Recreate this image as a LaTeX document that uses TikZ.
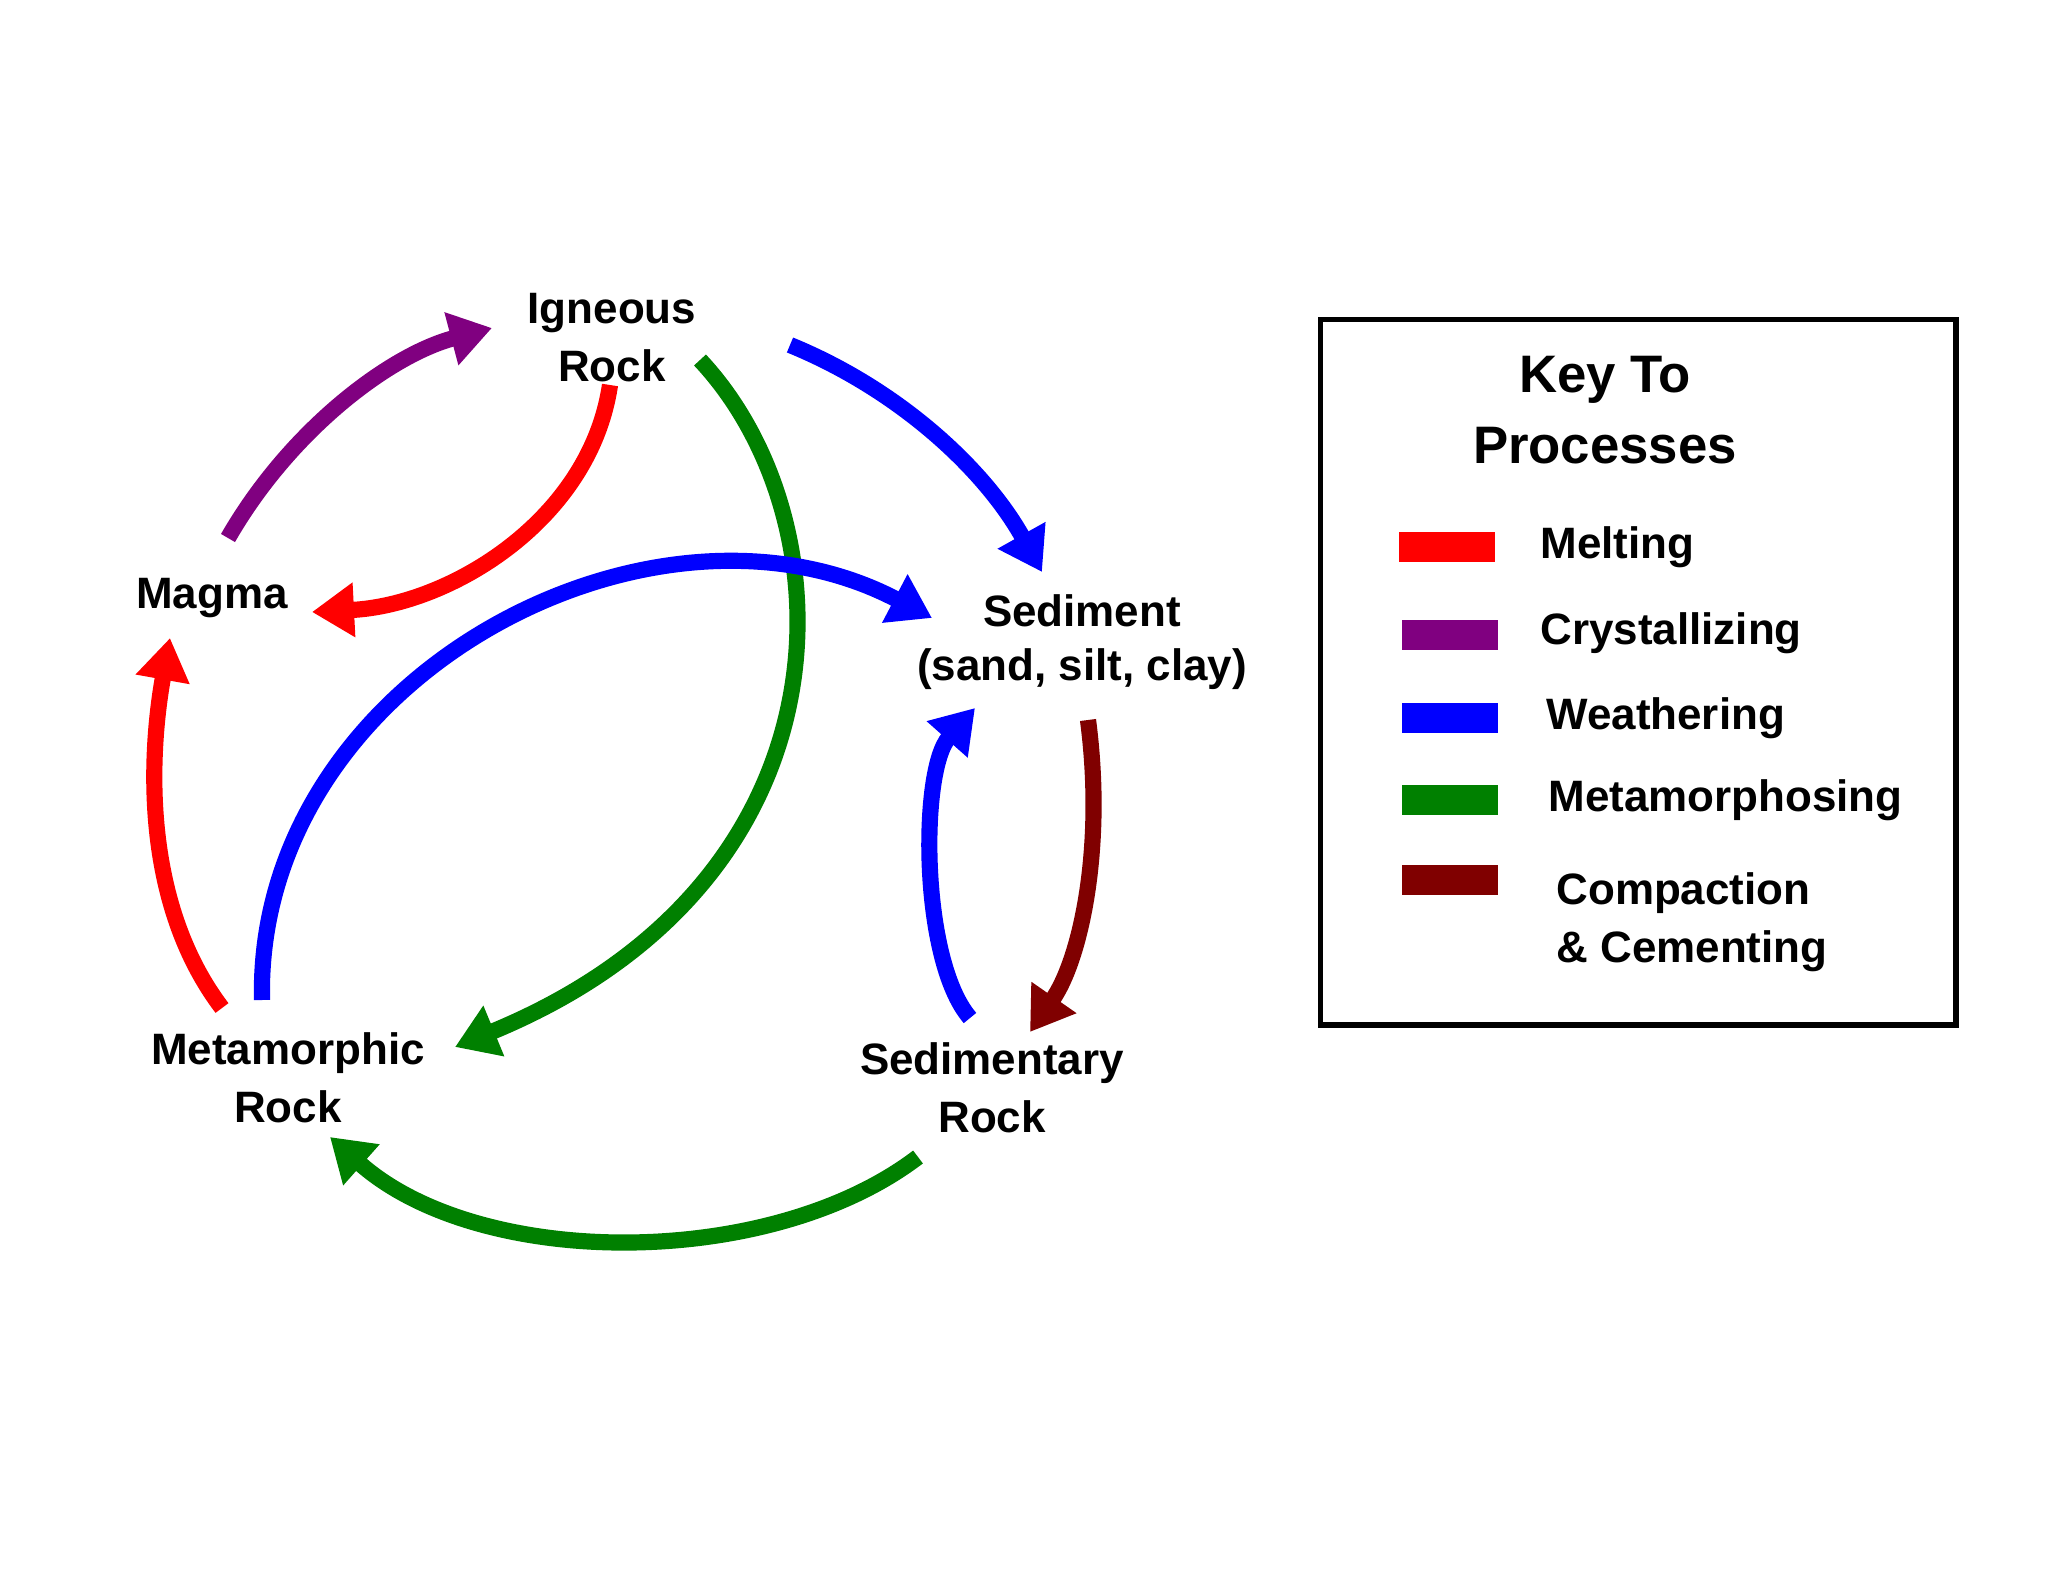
\documentclass[tikz,border=0pt]{standalone}
\usepackage{fontspec}
\setmainfont{Liberation Sans}
\usetikzlibrary{arrows.meta}
\definecolor{cred}{HTML}{FF0000}
\definecolor{cpurple}{HTML}{800080}
\definecolor{cblue}{HTML}{0000FF}
\definecolor{cgreen}{HTML}{008000}
\definecolor{cmaroon}{HTML}{800000}
\begin{document}
\begin{tikzpicture}[x=0.01cm,y=-0.01cm,
  lbl/.style={font=\fontsize{12.5}{15.5}\selectfont\bfseries,align=center},
  key/.style={font=\fontsize{12.5}{15.5}\selectfont\bfseries,align=left,anchor=west},
  arr/.style={line width=4.6pt,-{Triangle[length=0.42cm,width=0.52cm]}},
  sw/.style={minimum width=0.95cm,minimum height=0.3cm,inner sep=0pt}]
\useasboundingbox (0,0) rectangle (2048,1582);
\fill[white] (0,0) rectangle (2048,1582);
% nodes
\node[lbl] (ign) at (612,338) {Igneous\\[1pt]Rock};
\node[lbl] (mag) at (212,598) {Magma};
\node[lbl] (sed) at (1082,642) {Sediment\\(sand, silt, clay)};
\node[lbl] (met) at (288,1078) {Metamorphic\\[1pt]Rock};
\node[lbl] (sr) at (992,1088) {Sedimentary\\[1pt]Rock};
% endpoints
\coordinate (p1s) at (228,538); \coordinate (p1e) at (492,328);
\coordinate (r1s) at (610,385); \coordinate (r1e) at (312,612);
\coordinate (b1s) at (790,345); \coordinate (b1e) at (1042,572);
\coordinate (g1s) at (700,360); \coordinate (g1e) at (455,1047);
\coordinate (b2s) at (262,1000); \coordinate (b2e) at (932,618);
\coordinate (r2s) at (222,1008); \coordinate (r2e) at (170,638);
\coordinate (b3s) at (970,1018); \coordinate (b3e) at (975,708);
\coordinate (m1s) at (1088,720); \coordinate (m1e) at (1030,1032);
\coordinate (g2s) at (918,1157); \coordinate (g2e) at (330,1137);
% arrows
\draw[arr,cpurple] (p1s) .. controls (290,430) and (390,355) .. (p1e);
\draw[arr,cred] (r1s) .. controls (590,520) and (450,605) .. (r1e);
\draw[arr,cblue] (b1s) .. controls (900,390) and (985,470) .. (b1e);
\draw[arr,cgreen] (g1s) .. controls (850,520) and (860,880) .. (g1e);
\draw[arr,cblue] (b2s) .. controls (255,680) and (650,470) .. (b2e);
\draw[arr,cred] (r2s) .. controls (140,900) and (150,750) .. (r2e);
\draw[arr,cblue] (b3s) .. controls (920,960) and (920,770) .. (b3e);
\draw[arr,cmaroon] (m1s) .. controls (1105,850) and (1080,960) .. (m1e);
\draw[arr,cgreen] (g2s) .. controls (770,1270) and (480,1270) .. (g2e);
% legend
\node[draw,line width=1.5pt,minimum width=6.35cm,minimum height=7.05cm,anchor=north west] (box) at (1318,317) {};
\node[font=\fontsize{15}{19}\selectfont\bfseries,align=center] (kt) at (1605,410) {Key To\\[1pt]Processes};
\node[sw,fill=cred] (s1) at (1447,547) {};
\node[sw,fill=cpurple] (s2) at (1450,635) {};
\node[sw,fill=cblue] (s3) at (1450,718) {};
\node[sw,fill=cgreen] (s4) at (1450,800) {};
\node[sw,fill=cmaroon] (s5) at (1450,880) {};
\node[key] (k1) at (1528,547) {Melting};
\node[key] (k2) at (1528,633) {Crystallizing};
\node[key] (k3) at (1534,718) {Weathering};
\node[key] (k4) at (1536,800) {Metamorphosing};
\node[key,anchor=north west] (k5) at (1544,860) {Compaction\\[1pt]\& Cementing};
\end{tikzpicture}
\end{document}
